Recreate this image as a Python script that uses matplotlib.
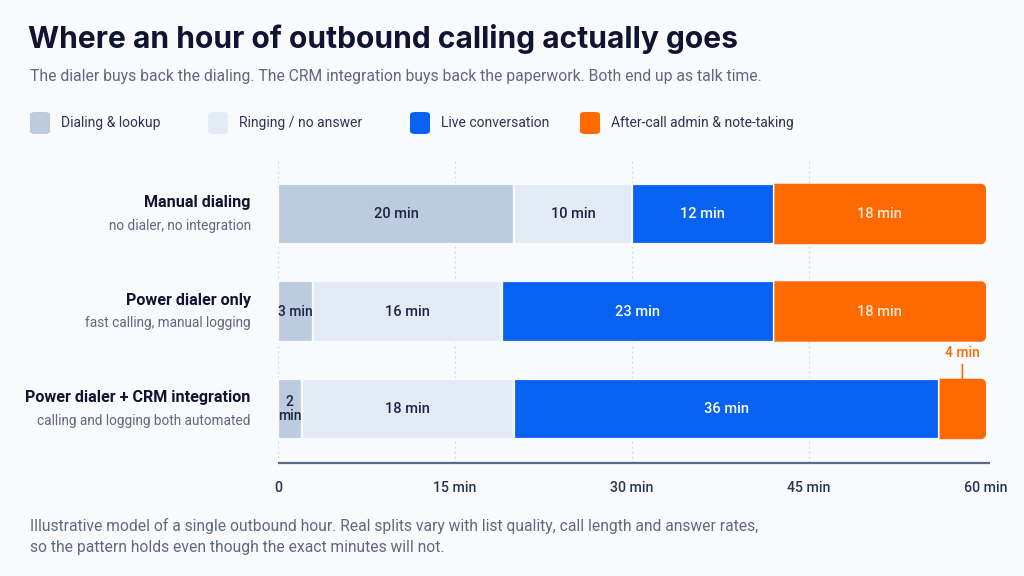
import matplotlib
matplotlib.use("Agg")
import matplotlib.pyplot as plt
from matplotlib.patches import FancyBboxPatch, PathPatch
from matplotlib.path import Path

plt.rcParams['font.family'] = ['Roboto', 'DejaVu Sans']

# ---- data ----
rows = ["Manual dialing", "Power dialer only", "Power dialer + CRM integration"]
row_notes = ["no dialer, no integration", "fast calling, manual logging",
             "calling and logging both automated"]
segments = ["Dialing & lookup", "Ringing / no answer", "Live conversation",
            "After-call admin & note-taking"]
dialing = [20, 3, 2]
ringing = [10, 16, 18]
live = [12, 23, 36]
admin = [18, 18, 4]
xticks = [0, 15, 30, 45, 60]
xtick_labels = ["0", "15 min", "30 min", "45 min", "60 min"]

title = "Where an hour of outbound calling actually goes"
subtitle = ("The dialer buys back the dialing. The CRM integration buys back the paperwork. "
            "Both end up as talk time.")
footnote = ("Illustrative model of a single outbound hour. Real splits vary with list quality, "
            "call length and answer rates,\nso the pattern holds even though the exact minutes will not.")

# ---- style ----
BG = "#F8FAFC"
colors = ["#BDCBDE", "#E3EBF7", "#0762F2", "#FF6A00"]
label_colors = ["#1C2540", "#1C2540", "#FFFFFF", "#FFE9D9"]
DARK = "#0F1430"
GRAY = "#5E6980"
TITLE_FONT = ['Inter', 'DejaVu Sans']

W, H = 1024, 576
fig = plt.figure(figsize=(W / 100, H / 100), dpi=100, facecolor=BG)

def fx(px):
    return px / W

def fy(py):
    return 1 - py / H

ax_left, ax_right, ax_top, ax_bot = 278, 986, 160, 463
ax = fig.add_axes([fx(ax_left), fy(ax_bot), (ax_right - ax_left) / W, (ax_bot - ax_top) / H])
ax.set_facecolor(BG)
ax.set_xlim(0, 60)
ax.set_ylim(2.554, -0.554)
for s in ax.spines.values():
    s.set_visible(False)
ax.set_yticks([])
ax.set_xticks(xticks)
ax.set_xticklabels(xtick_labels, fontsize=10.2, color="#2A3550", fontweight="medium")
ax.tick_params(axis="x", length=0, pad=13)

# grid
for xv in xticks:
    ax.axvline(xv, color="#D3D9E3", lw=0.9, ls=(0, (1.5, 2.5)), zorder=0)
# axis line
ax.plot([0, 60.3], [2.554, 2.554], color="#5B6A86", lw=1.6, clip_on=False, zorder=3,
        solid_capstyle="butt")

bar_h = 0.62
px_x = (ax_right - ax_left) / 60.0
px_y = (ax_bot - ax_top) / 3.108
rx = 5 / px_x
ry = 5 / px_y
gap = 1.6 / px_x


def right_rounded(x0, yc, w, h):
    """Rectangle with rounded right corners, in data units."""
    k = 0.5523
    y0, y1 = yc - h / 2, yc + h / 2
    x1 = x0 + w
    verts = [(x0, y0), (x1 - rx, y0),
             (x1 - rx * (1 - k), y0), (x1, y0 + ry * (1 - k)), (x1, y0 + ry),
             (x1, y1 - ry),
             (x1, y1 - ry * (1 - k)), (x1 - rx * (1 - k), y1), (x1 - rx, y1),
             (x0, y1), (x0, y0)]
    codes = [Path.MOVETO, Path.LINETO,
             Path.CURVE4, Path.CURVE4, Path.CURVE4,
             Path.LINETO,
             Path.CURVE4, Path.CURVE4, Path.CURVE4,
             Path.LINETO, Path.CLOSEPOLY]
    return Path(verts, codes)


series = [dialing, ringing, live, admin]
ypos = list(range(len(rows)))
lefts = [0] * len(rows)
nser = len(series)
for si, vals in enumerate(series):
    if si < nser - 1:
        ax.barh(ypos, vals, left=lefts, height=bar_h, color=colors[si],
                edgecolor=BG, linewidth=1.6, zorder=2)
    else:
        for ri, v in enumerate(vals):
            ax.add_patch(PathPatch(right_rounded(lefts[ri] + gap / 2, ri, v - gap / 2, bar_h),
                                   facecolor=colors[si], edgecolor="none", zorder=2))
    for ri, v in enumerate(vals):
        cx = lefts[ri] + v / 2
        if v >= 5:
            ax.text(cx, ri, f"{v} min", ha="center", va="center", fontsize=10.5,
                    fontweight="medium", color=label_colors[si], zorder=4)
        elif si < 2:
            txt = f"{v} min" if v >= 3 else f"{v}\nmin"
            ax.text(cx, ri, txt, ha="center", va="center", fontsize=10,
                    fontweight="medium", color=label_colors[si], zorder=4,
                    linespacing=1.05)
        else:
            ax.annotate(f"{v} min", xy=(cx, ri - bar_h / 2), xytext=(cx, ri - bar_h / 2 - 0.19),
                        ha="center", va="bottom", fontsize=10, fontweight="medium",
                        color=colors[si],
                        arrowprops=dict(arrowstyle="-", color=colors[si], lw=1.2,
                                        shrinkA=1, shrinkB=0), zorder=4)
    lefts = [l + v for l, v in zip(lefts, vals)]

# row labels
for ri, (name, note) in enumerate(zip(rows, row_notes)):
    ax.text(-2.3, ri - 0.115, name, ha="right", va="center", fontsize=11.6,
            fontweight="bold", color=DARK, clip_on=False)
    ax.text(-2.3, ri + 0.12, note, ha="right", va="center", fontsize=9.8,
            color=GRAY, clip_on=False)

# title, subtitle
fig.text(fx(28), fy(39), title, ha="left", va="center", fontsize=21.6, fontweight="bold",
         color=DARK, family=TITLE_FONT)
fig.text(fx(30), fy(76), subtitle, ha="left", va="center", fontsize=11.35, color=GRAY)

# legend
leg_x = [30, 208, 410, 580]
for lx, name, c in zip(leg_x, segments, colors):
    p = FancyBboxPatch((fx(lx), fy(134)), fx(20), 22 / H,
                       boxstyle="round,pad=0,rounding_size=0.005",
                       transform=fig.transFigure, facecolor=c, edgecolor="none")
    fig.patches.append(p)
    fig.text(fx(lx + 31), fy(123), name, ha="left", va="center", fontsize=10, color="#2A3550")

# footnote
fig.text(fx(30), fy(536.5), footnote, ha="left", va="center", fontsize=11.25, color=GRAY,
         linespacing=1.42)

fig.savefig("out.png", dpi=100, facecolor=BG)
